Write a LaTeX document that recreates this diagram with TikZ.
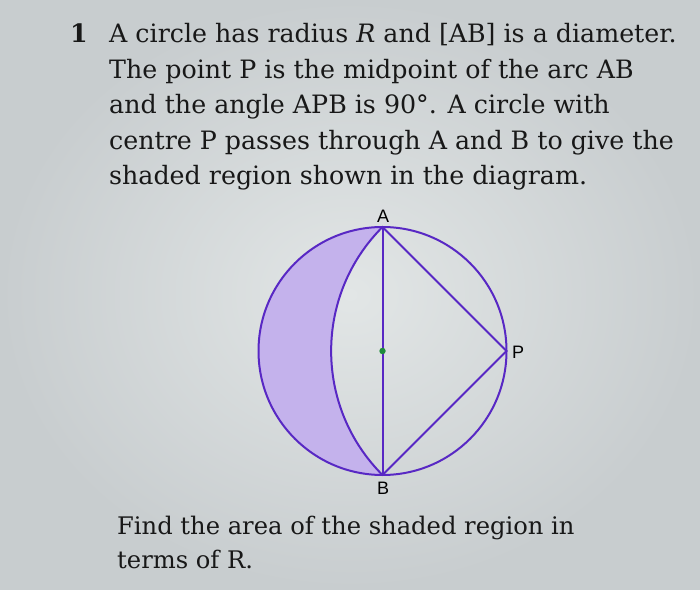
\documentclass[tikz,border=0pt]{standalone}
\usepackage{amsmath}
\usepackage{xcolor}
\usepackage{fontspec}
\setmainfont{DejaVu Serif}
\newfontfamily\labelfont{Liberation Sans}
\definecolor{penpurple}{RGB}{88,40,196}
\definecolor{shadepurple}{RGB}{196,178,236}
\definecolor{paper}{RGB}{226,230,230}
\definecolor{paperedge}{RGB}{200,205,207}
\definecolor{ink}{RGB}{24,24,24}
\definecolor{dotgreen}{RGB}{30,140,60}
\usetikzlibrary{positioning}

\begin{document}
\begin{tikzpicture}[x=1pt, y=1pt, line cap=round, line join=round,
	txt/.style={anchor=base west, inner sep=0pt, text=ink, font=\fontsize{25.3}{29}\selectfont},
	lowtxt/.style={txt, font=\fontsize{24.2}{28}\selectfont},
	lbl/.style={inner sep=0pt, text=black, font=\labelfont\fontsize{18}{20}\selectfont}]
					\shade[inner color=paper, outer color=paperedge] (0,0) rectangle (700,589);
					\useasboundingbox (0,0) rectangle (700,589);

					% question text
					\node[txt] (num) at (70,546) {\textbf{1}};
					\node[txt] (line1) at (109,546) {A circle has radius \textit{R} and [AB] is a diameter.};
					\node[txt] (line2) at (109,510.5) {The point P is the midpoint of the arc AB};
					\node[txt] (line3) at (109,475) {and the angle APB is 90\textdegree. A circle with};
					\node[txt] (line4) at (109,439.5) {centre P passes through A and B to give the};
					\node[txt] (line5) at (109,404) {shaded region shown in the diagram.};

					% diagram
					\coordinate (O) at (382.5,238);
					\coordinate (A) at (382.5,362);
					\coordinate (B) at (382.5,114);
					\coordinate (P) at (506.5,238);

					\fill[shadepurple] (A) arc[start angle=90, end angle=270, radius=124]
						arc[start angle=225, end angle=135, radius=175.36];
					\draw[penpurple, line width=2pt] (O) circle (124);
					\draw[penpurple, line width=2pt] (B) arc[start angle=225, end angle=135, radius=175.36];
					\draw[penpurple, line width=2pt] (A) -- (B);
					\draw[penpurple, line width=2pt] (A) -- (P) -- (B);
					\fill[dotgreen] (O) circle (3.2);

					\node[lbl] (labA) at (383,373) {A};
					\node[lbl] (labB) at (383,101) {B};
					\node[lbl] (labP) at (518,237) {P};

					\node[lowtxt] (line6) at (117,55) {Find the area of the shaded region in};
					\node[lowtxt] (line7) at (117,21) {terms of R.};
				\end{tikzpicture}
\end{document}
